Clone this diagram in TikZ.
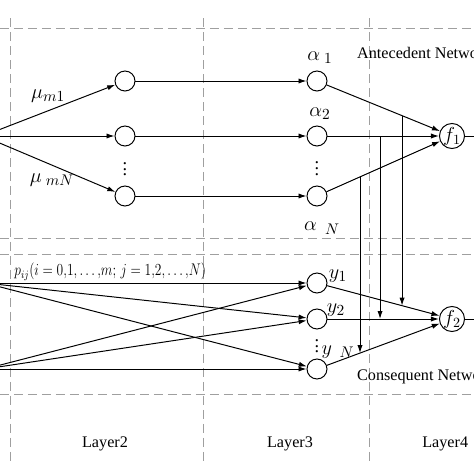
\documentclass[tikz,border=0pt]{standalone}
\usepackage{fontspec}
\setmainfont{Liberation Serif}
\usetikzlibrary{calc,arrows.meta}

\begin{document}
\begin{tikzpicture}[
    neuron/.style={circle,draw,inner sep=0pt,minimum size=5mm},
    sum/.style={circle,draw,inner sep=0pt,minimum size=5.8mm,font=\fontsize{14}{16}\selectfont},
    lab/.style={inner sep=1pt,font=\fontsize{15}{17}\selectfont},
    vdots/.style={inner sep=0pt,font=\fontsize{13}{15}\selectfont},
    border/.style={draw=gray!75,dash pattern=on 2.2mm off 1.3mm,line width=0.6pt},
    >={Latex[length=2mm,width=1.3mm]}, line width=0.7pt,
    font=\fontsize{11.5}{14}\selectfont
    ]
    \useasboundingbox (0, 0) rectangle (11.85, 11.85);
    \clip (0, 0) rectangle (11.85, 11.85);

    \draw [border] (0, 11.15) -- (11.85, 11.15);
    \draw [border] (0, 5.9) -- (11.85, 5.9);
    \draw [border] (0, 5.5) -- (11.85, 5.5);
    \draw [border] (0, 2.0) -- (11.85, 2.0);
    \draw [border] (0.25, 11.4) -- (0.25, 0.3);
    \draw [border] (5.075, 11.4) -- (5.075, 0.3);
    \draw [border] (9.225, 11.4) -- (9.225, 0.3);

    \coordinate (u) at (-0.425, 8.45);
    \coordinate (p1) at (-0.375, 4.775);
    \coordinate (p2) at (-0.375, 2.625);
    \coordinate (o1) at (12.5, 8.45);
    \coordinate (o2) at (12.5, 3.875);

    \node (c1) at (3.125, 9.825) [neuron] {};
    \node (c2) at (3.125, 8.45) [neuron] {};
    \node (c3) at (3.125, 6.95) [neuron] {};
    \node (a1) at (7.925, 9.825) [neuron] {};
    \node (a2) at (7.925, 8.45) [neuron] {};
    \node (aN) at (7.925, 6.95) [neuron] {};
    \node (f1) at (11.3, 8.45) [sum] {$f_1$};
    \node (y1) at (7.925, 4.775) [neuron] {};
    \node (y2) at (7.925, 3.875) [neuron] {};
    \node (yN) at (7.925, 2.625) [neuron] {};
    \node (f2) at (11.3, 3.875) [sum] {$f_2$};

    \node (dots1) at (3.125, 7.72) [vdots] {$\vdots$};
    \node (dots2) at (7.925, 7.74) [vdots] {$\vdots$};
    \node (dots3) at (7.925, 3.3) [vdots] {$\vdots$};

    \node (mu1) at (1.2, 9.45) [lab] {$\mu_{m1}$};
    \node (muN) at (1.3, 7.35) [lab] {$\mu_{\;mN}$};
    \node (alpha1) at (8.0, 10.4) [lab] {$\alpha_{\;1}$};
    \node (alpha2) at (8.0, 9.0) [lab] {$\alpha_2$};
    \node (alphaN) at (8.05, 6.15) [lab] {$\alpha_{\;\;N}$};
    \node (ylab1) at (8.45, 4.95) [lab] {$y_1$};
    \node (ylab2) at (8.4, 4.1) [lab] {$y_2$};
    \node (ylabN) at (8.45, 3.05) [lab] {$y_{\;\;N}$};
    \node (pij) at (0.35, 5.05) [anchor=west,inner sep=0pt] {\scalebox{0.8}[1]{$p_{ij}(i=0{,}1{,}\ldots{,}m;\,j=1{,}2{,}\ldots{,}N)$}};
    \node (ante) at (8.8, 10.525) [anchor=west] {Antecedent Network};
    \node (cons) at (8.8, 2.425) [anchor=west] {Consequent Network};
    \node (layer2) at (2.625, 0.75) {Layer2};
    \node (layer3) at (7.25, 0.75) {Layer3};
    \node (layer4) at (11.13, 0.75) {Layer4};

    \draw [->] (u) to (c1);
    \draw [->] (u) to (c2);
    \draw [->] (u) to (c3);
    \draw [->] (c1) to (a1);
    \draw [->] (c2) to (a2);
    \draw [->] (c3) to (aN);
    \draw [->] (a1) to (f1);
    \draw [->] (a2) to (f1);
    \draw [->] (aN) to (f1);
    \draw (f1) to (o1);

    \draw [->] (p1) to (y1);
    \draw [->] (p1) to (y2);
    \draw [->] (p1) to (yN);
    \draw [->] (p2) to (y1);
    \draw [->] (p2) to (y2);
    \draw [->] (p2) to (yN);
    \draw [->] (y1) to (f2);
    \draw [->] (y2) to (f2);
    \draw [->] (yN) to (f2);
    \draw (f2) to (o2);

    \coordinate (t1) at ($(a1)!0.63!(f1)$);
    \coordinate (t2) at ($(a2)!0.467!(f1)$);
    \coordinate (t3) at ($(aN)!0.3185!(f1)$);
    \coordinate (b1) at ($(y1)!0.63!(f2)$);
    \coordinate (b2) at ($(y2)!0.467!(f2)$);
    \coordinate (b3) at ($(yN)!0.3185!(f2)$);
    \draw [->] (t1) to (b1);
    \draw [->] (t2) to (b2);
    \draw [->] (t3) to (b3);
  \end{tikzpicture}
\end{document}
